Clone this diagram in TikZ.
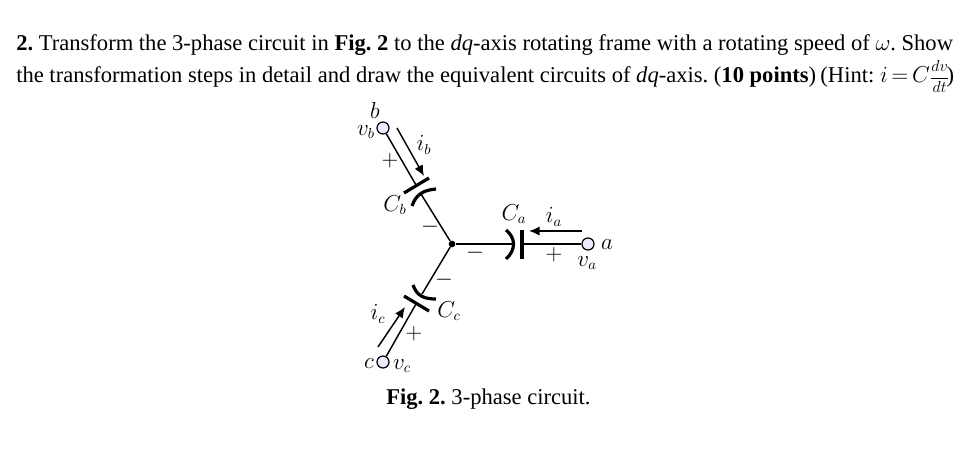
\documentclass[tikz,border=0pt]{standalone}
\usepackage{fontspec}
\usetikzlibrary{arrows.meta}
\setmainfont{Liberation Serif}
\frenchspacing
\begin{document}
\begin{tikzpicture}[x=0.75pt, y=-0.75pt,
    term/.style = {draw, circle, fill=blue!8, inner sep=0pt, minimum size=9pt, line width=0.9pt},
    junct/.style = {circle, fill=black, inner sep=0pt, minimum size=5pt},
    plate/.style = {line width=2.4pt},
    wire/.style = {line width=1.1pt},
    flow/.style = {line width=1.1pt, -{Latex[length=8pt,width=7pt]}},
    lbl/.style = {inner sep=0pt, font=\fontsize{16}{16}\selectfont},
    txt/.style = {anchor=base west, inner sep=0pt, font=\fontsize{16.93}{18}\selectfont}]
    \useasboundingbox (0,0) rectangle (972,458);
    % question text
    \node[txt] (line1) at (16,50) {\textbf{2.} Transform the 3-phase circuit in \textbf{Fig. 2} to the \textit{dq}-axis rotating frame with a rotating speed of $\omega$. Show};
    \node[txt] (line2) at (16,82) {the transformation steps in detail and draw the equivalent circuits of \textit{dq}-axis. (\textbf{10 points}) \hspace{-1pt}(Hint: $\thickmuskip=3mu i=C$\mbox{\fontsize{13}{14}\selectfont$\displaystyle\frac{dv}{dt}$}\hspace{-2pt})};
    % terminals and capacitor plates
    \node[junct] (n) at (452,244) {};
    \node[term] (a) at (588,244) {};
    \node[term] (b) at (383,128) {};
    \node[term] (c) at (383,362) {};
    \coordinate (pa) at (522,244);
    \coordinate (qa) at (513,244);
    \coordinate (pb) at (416,185);
    \coordinate (qb) at (421,194);
    \coordinate (pc) at (416,304);
    \coordinate (qc) at (422,294);
    % wires
    \draw[wire] (a) -- (pa);
    \draw[wire] (qa) -- (n);
    \draw[wire] (b) -- (pb);
    \draw[wire] (qb) -- (n);
    \draw[wire] (c) -- (pc);
    \draw[wire] (qc) -- (n);
    % plates
    \draw[plate] (522,230) -- (522,259);
    \draw[plate] (506,230) .. controls (516,238) and (516,250) .. (506,259);
    \draw[plate] (404,193) -- (429,178);
    \draw[plate] (412,206) .. controls (416,194) and (424,190) .. (436,189);
    \draw[plate] (404,296) -- (429,311);
    \draw[plate] (413,285) .. controls (417,296) and (424,299) .. (436,299);
    % current arrows
    \coordinate (ia1) at (582,231);
    \coordinate (ia2) at (529,231);
    \coordinate (ib1) at (397,128);
    \coordinate (ib2) at (424,176);
    \coordinate (ic1) at (378,347);
    \coordinate (ic2) at (405,307);
    \draw[flow] (ia1) -- (ia2);
    \draw[flow] (ib1) -- (ib2);
    \draw[flow] (ic1) -- (ic2);
    % labels
    \node[lbl] (lb) at (375,110) {$b$};
    \node[lbl] (vb) at (366,132) {$v_b$};
    \node[lbl] (ib) at (424,145) {$i_b$};
    \node[lbl] (Cb) at (395,205) {$C_b$};
    \node[lbl] (la) at (607,245) {$a$};
    \node[lbl] (va) at (587,263) {$v_a$};
    \node[lbl] (ia) at (554,217) {$i_a$};
    \node[lbl] (Ca) at (514,214) {$C_a$};
    \node[lbl] (lc) at (369,364) {$c$};
    \node[lbl] (vc) at (402,366) {$v_c$};
    \node[lbl] (ic) at (378,314) {$i_c$};
    \node[lbl] (Cc) at (449,311) {$C_c$};
    \node[lbl] (pb1) at (390,161) {$+$};
    \node[lbl] (mb) at (430,227) {$-$};
    \node[lbl] (ma) at (475,253) {$-$};
    \node[lbl] (pa1) at (554,255) {$+$};
    \node[lbl] (mc) at (444,280) {$-$};
    \node[lbl] (pc1) at (414,334) {$+$};
    % caption
    \node[txt] (cap) at (386,404) {\textbf{Fig. 2.} 3-phase circuit.};
\end{tikzpicture}
\end{document}
